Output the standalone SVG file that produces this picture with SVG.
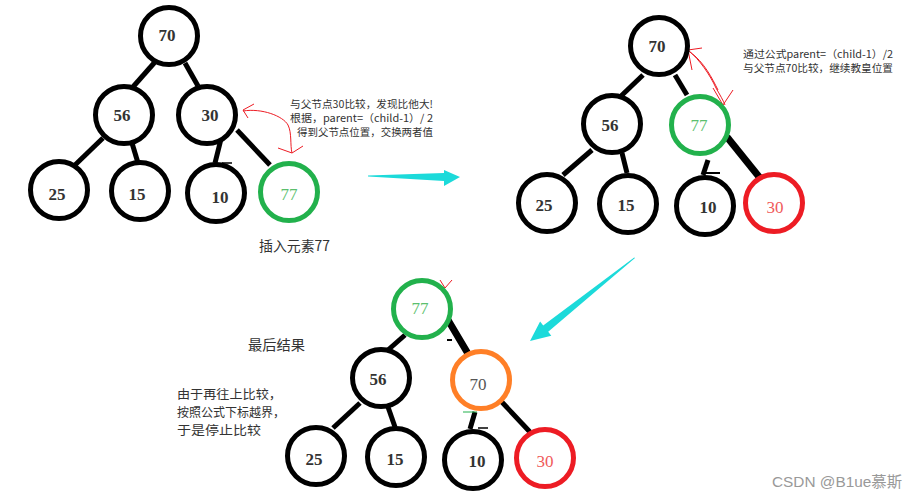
<svg xmlns="http://www.w3.org/2000/svg" width="916" height="499" viewBox="0 0 916 499">
<style>
.n{fill:#fff;stroke:#000;stroke-width:5}
.g{stroke:#22b14c}
.r{stroke:#ed1c24}
.o{stroke:#ff7f27}
.t{font-family:"Liberation Serif",serif;font-size:17px;font-weight:bold;fill:#333;text-anchor:middle}
.tg{font-weight:normal;fill:#5cbf6e}
.tr{font-weight:normal;fill:#f05a5a}
.tn{font-weight:normal;fill:#555}
.e{stroke:#000;stroke-width:5;fill:none}
.red{stroke:#ed1c24;stroke-width:1;fill:none}
.note{font-family:"Noto Sans CJK SC","Noto Sans",sans-serif;font-size:10.5px;fill:#333}
.lab{font-family:"Noto Sans CJK SC","Noto Sans",sans-serif;font-size:14px;fill:#333}
.lab2{font-family:"Noto Sans CJK SC","Noto Sans",sans-serif;font-size:12.5px;fill:#333}
.cy{fill:#1cdada}
</style>
<rect width="916" height="499" fill="#fff"/>
<g id="connectors">
<line class="e" x1="155" y1="62" x2="132" y2="88"/>
<line class="e" x1="185" y1="63" x2="198" y2="86"/>
<line class="e" x1="103" y1="138" x2="75" y2="165"/>
<line class="e" x1="132" y1="143" x2="138" y2="163"/>
<line class="e" x1="222" y1="135" x2="215" y2="163"/>
<line class="e" x1="237" y1="130" x2="270" y2="165"/>
<line stroke="#000" stroke-width="1.5" x1="222" y1="163" x2="232" y2="163"/>
<line class="e" x1="643" y1="75" x2="620" y2="97"/>
<line class="e" x1="675" y1="75" x2="687" y2="95"/>
<line class="e" x1="592" y1="150" x2="563" y2="175"/>
<line class="e" x1="622" y1="153" x2="627" y2="173"/>
<line class="e" x1="708" y1="160" x2="703" y2="175"/>
<line class="e" style="stroke-width:7" x1="727" y1="137" x2="760" y2="178"/>
<line stroke="#000" stroke-width="2" x1="703" y1="173" x2="720" y2="173"/>
<line class="e" x1="405" y1="335" x2="388" y2="350"/>
<line class="e" style="stroke-width:7;stroke-linecap:round" x1="448" y1="320" x2="467" y2="352"/>
<line class="e" x1="360" y1="403" x2="333" y2="428"/>
<line class="e" x1="388" y1="407" x2="395" y2="427"/>
<line class="e" x1="475" y1="412" x2="470" y2="429"/>
<line class="e" x1="500" y1="400" x2="530" y2="432"/>
<line stroke="#000" stroke-width="2" x1="447" y1="340" x2="452" y2="340"/>
<line stroke="#22b14c" stroke-width="1" x1="463" y1="412" x2="477" y2="412"/>
<line stroke="#000" stroke-width="1.5" x1="478" y1="428" x2="488" y2="428"/>
<path class="red" d="M243,111 C262,108 283,116 288,125 C292,133 290,145 292,153"/>
<path class="red" d="M254,104 L243,110 L248,118"/>
<path class="red" d="M278,148 L292,153 L303,146"/>
<path class="red" d="M688,50 C700,60 710,75 716,88 C720,95 723,100 725,105"/>
<path class="red" d="M690,52 C704,62 712,78 718,90"/>
<path class="red" d="M702,48 L688,50 L692,70"/>
<path class="red" d="M713,88 L723,105 L733,90"/>
<path class="red" d="M440,280 L445,288 L452,280"/>
<polygon class="cy" points="368,175.5 444,173 444,170 460,177 444,186 444,181 368,176.5"/>
<polygon class="cy" points="635,258 548.2,331.7 551.3,335.7 530,341 540.1,321.5 543.2,325.5 634.2,257.4"/>
</g>
<g id="t1-70"><circle class="n" cx="169" cy="36" r="28.5"/><text class="t" x="167" y="41">70</text></g>
<g id="t1-56"><circle class="n" cx="124" cy="115" r="28.5"/><text class="t" x="122" y="121">56</text></g>
<g id="t1-30"><circle class="n" cx="207" cy="115" r="28.5"/><text class="t" x="210" y="121">30</text></g>
<g id="t1-25"><circle class="n" cx="59" cy="190" r="28.5"/><text class="t" x="57" y="200">25</text></g>
<g id="t1-15"><circle class="n" cx="140" cy="191" r="28.5"/><text class="t" x="137" y="200">15</text></g>
<g id="t1-10"><circle class="n" cx="216" cy="193" r="28.5"/><text class="t" x="220" y="203">10</text></g>
<g id="t1-77"><circle class="n g" cx="289" cy="192" r="28.5"/><text class="t tg" x="289" y="200">77</text></g>
<g id="t2-70"><circle class="n" cx="659" cy="46" r="28.5"/><text class="t" x="657" y="52">70</text></g>
<g id="t2-56"><circle class="n" cx="612" cy="124" r="28.5"/><text class="t" x="610" y="131">56</text></g>
<g id="t2-77"><circle class="n g" cx="700" cy="125" r="28.5"/><text class="t tg" x="699" y="131">77</text></g>
<g id="t2-25"><circle class="n" cx="547" cy="203" r="28.5"/><text class="t" x="544" y="211">25</text></g>
<g id="t2-15"><circle class="n" cx="628" cy="204" r="28.5"/><text class="t" x="626" y="211">15</text></g>
<g id="t2-10"><circle class="n" cx="705" cy="206" r="28.5"/><text class="t" x="708" y="213">10</text></g>
<g id="t2-30"><circle class="n r" cx="774" cy="203" r="28.5"/><text class="t tr" x="775" y="213">30</text></g>
<g id="t3-77"><circle class="n g" cx="422" cy="309" r="28.5"/><text class="t tg" x="420" y="314">77</text></g>
<g id="t3-56"><circle class="n" cx="381" cy="378" r="28.5"/><text class="t" x="378" y="385">56</text></g>
<g id="t3-70"><circle class="n o" cx="481" cy="380" r="28.5"/><text class="t tn" x="478" y="390">70</text></g>
<g id="t3-25"><circle class="n" cx="316" cy="456" r="28.5"/><text class="t" x="314" y="465">25</text></g>
<g id="t3-15"><circle class="n" cx="396" cy="457" r="28.5"/><text class="t" x="395" y="465">15</text></g>
<g id="t3-10"><circle class="n" cx="473" cy="460" r="28.5"/><text class="t" x="477" y="467">10</text></g>
<g id="t3-30"><circle class="n r" cx="545" cy="458" r="28.5"/><text class="t tr" x="545" y="467">30</text></g>
<g id="labels">
<text class="note" x="290" y="108" textLength="143" lengthAdjust="spacingAndGlyphs">与父节点30比较，发现比他大!</text>
<text class="note" x="290" y="122" textLength="143" lengthAdjust="spacingAndGlyphs">根据，parent=（child-1）/ 2</text>
<text class="note" x="297" y="136" textLength="136" lengthAdjust="spacingAndGlyphs">得到父节点位置，交换两者值</text>
<text class="note" x="743" y="58" textLength="150" lengthAdjust="spacingAndGlyphs">通过公式parent=（child-1）/2</text>
<text class="note" x="743" y="72" textLength="150" lengthAdjust="spacingAndGlyphs">与父节点70比较，继续教皇位置</text>
<text class="lab" x="259" y="251" textLength="71" lengthAdjust="spacingAndGlyphs">插入元素77</text>
<text class="lab" x="248" y="350" textLength="57" lengthAdjust="spacingAndGlyphs">最后结果</text>
<text class="lab2" x="177" y="399" textLength="105" lengthAdjust="spacingAndGlyphs">由于再往上比较，</text>
<text class="lab2" x="177" y="417" textLength="108" lengthAdjust="spacingAndGlyphs">按照公式下标越界，</text>
<text class="lab2" x="177" y="435" textLength="84" lengthAdjust="spacingAndGlyphs">于是停止比较</text>
<text x="772" y="487" font-family="'Liberation Sans','Noto Sans CJK SC',sans-serif" font-size="15" fill="#999" textLength="130" lengthAdjust="spacingAndGlyphs">CSDN @B1ue慕斯</text>
</g>
</svg>
